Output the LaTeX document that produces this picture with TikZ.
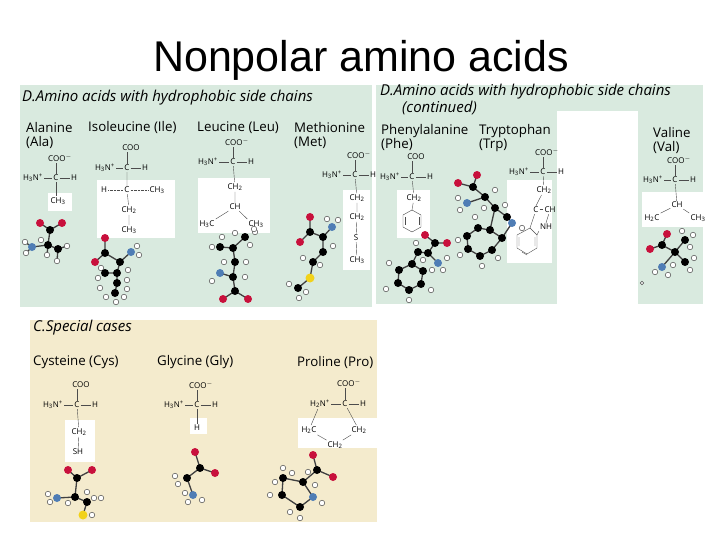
\documentclass[tikz,border=0pt]{standalone}
\usepackage{fontspec}
\setmainfont{Liberation Sans}
\newfontfamily\pan{Open Sans}
\definecolor{grn}{HTML}{D9EADF}
\definecolor{bei}{HTML}{F4EBCD}
\definecolor{ored}{HTML}{C8103C}
\definecolor{nblu}{HTML}{4F7DB5}
\definecolor{syel}{HTML}{F2D21A}
\tikzset{
 fm/.style={font=\pan\fontsize{8}{9}\selectfont,inner sep=1pt},
 nm/.style={font=\pan\fontsize{13.3}{15}\selectfont,anchor=west,inner sep=0pt},
 hd/.style={font=\pan\itshape\fontsize{15}{17}\selectfont,anchor=west,inner sep=0pt},
 bd/.style={line width=0.4pt,black!70},
 sb/.style={line width=1.3pt,black!75},
 wb/.style={fill=white,draw=none},
 ac/.style={circle,fill=black,inner sep=0pt,minimum size=8pt},
 ao/.style={circle,fill=ored,inner sep=0pt,minimum size=8pt},
 an/.style={circle,fill=nblu,inner sep=0pt,minimum size=8pt},
 as/.style={circle,fill=syel,inner sep=0pt,minimum size=9pt},
 ah/.style={circle,fill=white,draw=black!70,line width=0.5pt,inner sep=0pt,minimum size=5.5pt},
}
\newcommand\aahead[5]{%
 \node[fm] (#1C) at (#2,#3) {C};
 \node[fm] (#1O) at (#2+4,#3-20) {#5};
 \node[fm,anchor=east] (#1N) at (#4,#3) {H\textsubscript{3}N\textsuperscript{+}};
 \node[fm] (#1H) at (#2+18,#3) {H};
 \draw[bd] (#1N) -- (#1C) -- (#1H);
 \draw[bd] (#1C.north) -- (#1C.north |- #1O.south);
}
\begin{document}
\begin{tikzpicture}[x=1pt,y=-1pt]
\useasboundingbox (0,0) rectangle (720,540);
\fill[white] (0,0) rectangle (720,540);
\node[font=\fontsize{43}{48}\selectfont] (title) at (361,60) {Nonpolar amino acids};
% panels
\fill[grn] (20,85) rectangle (372,307);
\fill[grn] (376,85) rectangle (703,304);
\fill[white] (557,111) rectangle (638,304);
\fill[bei] (30,320) rectangle (377,522);
% white boxes
\fill[wb] (48,193) rectangle (72,211);
\fill[wb] (97,180) rectangle (175,238);
\fill[wb] (198,178) rectangle (270,233);
\fill[wb] (343,190) rectangle (370,270);
\fill[wb] (397,190) rectangle (430,238);
\fill[wb] (507,180) rectangle (552,263);
\fill[wb] (642,192) rectangle (703,227);
\fill[wb] (65,420) rectangle (95,462);
\fill[wb] (190,418) rectangle (207,434);
\fill[wb] (298,418) rectangle (377,448);
% headers
\node[hd] (h1) at (22,98) {D.Amino acids with hydrophobic side chains};
\node[hd] (h2) at (380,92) {D.Amino acids with hydrophobic side chains};
\node[hd] (h2b) at (402,108) {(continued)};
\node[hd] (h3) at (33,328) {C.Special cases};
% names
\node[nm] at (26,128) {Alanine};
\node[nm] at (26,143) {(Ala)};
\node[nm] at (88,128) {Isoleucine (Ile)};
\node[nm] at (197,128) {Leucine (Leu)};
\node[nm] at (294,128) {Methionine};
\node[nm] at (294,143) {(Met)};
\node[nm] at (381,131) {Phenylalanine};
\node[nm] at (381,145) {(Phe)};
\node[nm] at (479,131) {Tryptophan};
\node[nm] at (479,145) {(Trp)};
\node[nm] at (653,133) {Valine};
\node[nm] at (653,148) {(Val)};
\node[nm] at (33,362) {Cysteine (Cys)};
\node[nm] at (157,362) {Glycine (Gly)};
\node[nm] at (297,362) {Proline (Pro)};
% Alanine
\aahead{ala}{56}{178}{44}{COO$^-$}
\node[fm] (alaR) at (58,201) {CH\textsubscript{3}};
\draw[bd] (alaC.south) -- (alaR.north -| alaC.south);
% Isoleucine
\aahead{ile}{127}{168}{116}{COO}
\node[fm] (ileR1) at (127,190) {C};
\node[fm] (ileHa) at (104,190) {H};
\node[fm] (ileM) at (157,190) {CH\textsubscript{3}};
\node[fm] (ileR2) at (129,210) {CH\textsubscript{2}};
\node[fm] (ileR3) at (129,230) {CH\textsubscript{3}};
\draw[bd] (ileC) -- (ileR1) -- (ileR2) -- (ileR3);
\draw[bd,densely dotted] (ileHa) -- (ileR1) -- (ileM);
% Leucine
\aahead{leu}{233}{162}{219}{COO$^-$}
\node[fm] (leuR1) at (235,187) {CH\textsubscript{2}};
\node[fm] (leuR2) at (235,207) {CH};
\node[fm] (leuL) at (207,224) {H\textsubscript{3}C};
\node[fm] (leuRr) at (256,224) {CH\textsubscript{3}};
\draw[bd] (leuC) -- (leuR1) -- (leuR2);
\draw[bd] (leuR2) -- (leuL.north east) (leuR2) -- (leuRr.north west);
% Methionine
\aahead{met}{355}{175}{343}{COO$^-$}
\node[fm] (metR1) at (357,198) {CH\textsubscript{2}};
\node[fm] (metR2) at (357,217) {CH\textsubscript{2}};
\node[fm] (metR3) at (356,238) {S};
\node[fm] (metR4) at (357,260) {CH\textsubscript{3}};
\draw[bd] (metC) -- (metR1) -- (metR2) -- (metR3) -- (metR4);
% Phenylalanine
\aahead{phe}{412}{177}{401}{COO}
\node[fm] (pheR1) at (414,198) {CH\textsubscript{2}};
\draw[bd] (pheC) -- (pheR1);
\draw[bd] (412,210) -- (421,215) -- (421,227) -- (412,232) -- (403,227) -- (403,215) -- cycle;
\draw[bd] (pheR1) -- (412,210);
\draw[bd] (405,217) -- (405,225) (419,217) -- (419,225);
% Tryptophan
\aahead{trp}{543}{172}{530}{COO$^-$}
\node[fm] (trpR1) at (544,190) {CH\textsubscript{2}};
\node[fm] (trpR2) at (536,210) {C};
\node[fm] (trpR3) at (550,210) {CH};
\node[fm] (trpNH) at (546,227) {NH};
\draw[bd] (trpC) -- (trpR1) -- (trpR2.north);
\draw[bd,double,double distance=0.8pt] (trpR2) -- (trpR3);
\draw[bd] (trpR3) -- (trpNH.north);
\draw[bd] (trpR2) -- (530,228) (trpNH.south west) -- (537,235);
\draw[bd] (530,228) -- (537,235) -- (537,248) -- (527,254) -- (517,248) -- (517,235) -- cycle;
\draw[bd] (519,237) -- (519,246) (535,237) -- (535,246) (522,252) -- (527,255);
% Valine
\aahead{val}{675}{180}{664}{COO$^-$}
\node[fm] (valR1) at (677,205) {CH};
\node[fm] (valL) at (652,218) {H\textsubscript{2}C};
\node[fm] (valRr) at (698,218) {CH\textsubscript{3}};
\draw[bd] (valC) -- (valR1);
\draw[bd] (valR1) -- (valL.north east) (valR1) -- (valRr.north west);
% Cysteine
\aahead{cys}{77}{405}{64}{COO}
\node[fm] (cysR1) at (79,432) {CH\textsubscript{2}};
\node[fm] (cysR2) at (78,452) {SH};
\draw[bd] (cysC) -- (cysR1) -- (cysR2);
% Glycine
\aahead{gly}{197}{405}{185}{COO$^-$}
\node[fm] (glyR) at (197,428) {H};
\draw[bd] (glyC) -- (glyR);
% Proline
\node[fm] (proC) at (345,404) {C};
\node[fm] (proO) at (349,383) {COO$^-$};
\node[fm] (proN) at (320,404) {H\textsubscript{2}N\textsuperscript{+}};
\node[fm] (proH) at (363,404) {H};
\node[fm] (proA) at (309,430) {H\textsubscript{2}C};
\node[fm] (proB) at (359,430) {CH\textsubscript{2}};
\node[fm] (proG) at (335,445) {CH\textsubscript{2}};
\draw[bd] (proN) -- (proC) -- (proH) (proC.north) -- (proC.north |- proO.south);
\draw[bd] (proN) -- (proA) -- (proG) -- (proB) -- (proC);
% ---------- ball and stick models
% Alanine
\draw[sb] (40,223)--(50,230)--(62,223) (50,230)--(48,245)--(32,247) (48,245)--(58,249)--(67,246) (58,249)--(57,261) (48,245)--(47,255) (32,247)--(25,242) (32,247)--(26,253);
\foreach \p in {(67,246),(57,261),(47,255),(25,242),(26,253),(41,240)} \node[ah] at \p {};
\node[ao] at (40,223) {}; \node[ao] at (62,223) {};
\node[ac] at (50,230) {}; \node[ac] at (48,245) {}; \node[ac] at (58,249) {};
\node[an] at (32,247) {};
% Isoleucine
\draw[sb] (105,238)--(105,253)--(95,262) (105,253)--(120,262)--(131,252) (120,262)--(117,273)--(117,283)--(115,293) (117,273)--(105,273);
\foreach \p in {(137,246),(139,255),(128,270),(98,278),(100,288),(127,280),(127,289),(106,297),(116,302),(124,297),(101,268)} \node[ah] at \p {};
\node[ao] at (105,238) {}; \node[ao] at (95,262) {};
\foreach \p in {(105,253),(120,262),(117,273),(117,283),(115,293),(105,273)} \node[ac] at \p {};
\node[an] at (131,252) {};
% Leucine
\draw[sb] (223,299)--(235,291)--(248,299) (235,291)--(233,277)--(220,273) (233,277)--(235,262)--(233,248)--(220,247) (233,248)--(245,237);
\foreach \p in {(235,233),(212,247),(222,237),(255,232),(250,245),(246,262),(224,262),(245,277),(212,281),(254,229)} \node[ah] at \p {};
\node[ao] at (223,299) {}; \node[ao] at (248,299) {};
\foreach \p in {(235,291),(233,277),(235,262),(233,248),(220,247),(245,237)} \node[ac] at \p {};
\node[an] at (220,273) {};
% Methionine
\draw[sb] (310,217)--(310,232)--(300,242) (310,232)--(323,237)--(332,227) (323,237)--(323,252)--(313,262)--(310,278)--(298,288);
\foreach \p in {(338,220),(327,219),(333,246),(320,265),(303,258),(289,284),(299,298),(306,292)} \node[ah] at \p {};
\node[ao] at (310,217) {}; \node[ao] at (300,242) {};
\foreach \p in {(310,232),(323,237),(323,252),(313,262),(298,288)} \node[ac] at \p {};
\node[an] at (332,227) {}; \node[as] at (310,278) {};
% Phenylalanine
\draw[sb] (425,235)--(435,243)--(447,243) (435,243)--(428,253)--(438,263) (428,253)--(418,252)--(412,264);
\draw[sb] (412,264)--(423,271)--(421,284)--(409,290)--(398,283)--(399,270)--cycle;
\foreach \p in {(416,243),(443,270),(447,258),(432,270),(389,263),(386,289),(409,300),(431,290),(423,260)} \node[ah] at \p {};
\node[ao] at (425,235) {}; \node[ao] at (447,243) {};
\foreach \p in {(435,243),(428,253),(418,252),(412,264),(423,271),(421,284),(409,290),(398,283),(399,270)} \node[ac] at \p {};
\node[an] at (438,263) {};
% Tryptophan
\draw[sb] (458,183)--(473,187)--(477,175) (473,187)--(485,197)--(467,203) (485,197)--(495,208)--(507,217)--(512,223)--(502,238)--(490,230)--(495,208);
\draw[sb] (490,230)--(478,228)--(467,236)--(468,249)--(480,256)--(492,250)--(502,238);
\foreach \p in {(495,190),(484,208),(460,210),(458,198),(505,205),(522,228),(475,217),(458,240),(460,255),(482,266),(498,258)} \node[ah] at \p {};
\node[ao] at (458,183) {}; \node[ao] at (477,175) {};
\foreach \p in {(473,187),(485,197),(495,208),(507,217),(502,238),(490,230),(478,228),(467,236),(468,249),(480,256),(492,250)} \node[ac] at \p {};
\node[an] at (467,203) {}; \node[an] at (512,223) {};
% Valine
\draw[sb] (667,234)--(662,245)--(650,249) (662,245)--(675,252)--(662,267) (675,252)--(685,240) (675,252)--(685,262);
\foreach \p in {(682,231),(693,235),(690,247),(694,258),(690,270),(673,265),(655,272),(668,275)} \node[ah] at \p {};
\node[ao] at (667,234) {}; \node[ao] at (650,249) {};
\foreach \p in {(662,245),(675,252),(685,240),(685,262)} \node[ac] at \p {};
\node[an] at (662,267) {};
\node[ah,minimum size=3.5pt] at (642,283) {};
% Cysteine
\draw[sb] (68,470)--(77,478)--(92,470) (77,478)--(75,497)--(57,498) (75,497)--(87,502)--(83,515);
\foreach \p in {(48,494),(50,502),(68,503),(94,498),(101,498),(92,515),(87,492)} \node[ah] at \p {};
\node[ao] at (68,470) {}; \node[ao] at (92,470) {};
\foreach \p in {(77,478),(75,497),(87,502)} \node[ac] at \p {};
\node[an] at (57,498) {}; \node[as] at (83,515) {};
% Glycine
\draw[sb] (195,452)--(200,468)--(215,473) (200,468)--(187,478)--(193,495);
\foreach \p in {(175,476),(178,484),(185,493),(202,500),(188,502)} \node[ah] at \p {};
\node[ao] at (195,452) {}; \node[ao] at (215,473) {};
\foreach \p in {(200,468),(187,478)} \node[ac] at \p {};
\node[an] at (193,495) {};
% Proline
\draw[sb] (313,455)--(317,470)--(333,477) (317,470)--(303,482)--(313,497)--(300,507)--(282,495)--(283,478)--(303,482);
\foreach \p in {(283,468),(275,482),(270,495),(290,512),(300,518),(322,503),(308,472),(315,485),(292,473)} \node[ah] at \p {};
\node[ao] at (313,455) {}; \node[ao] at (333,477) {};
\foreach \p in {(317,470),(303,482),(300,507),(282,495),(283,478)} \node[ac] at \p {};
\node[an] at (313,497) {};
\end{tikzpicture}
\end{document}
